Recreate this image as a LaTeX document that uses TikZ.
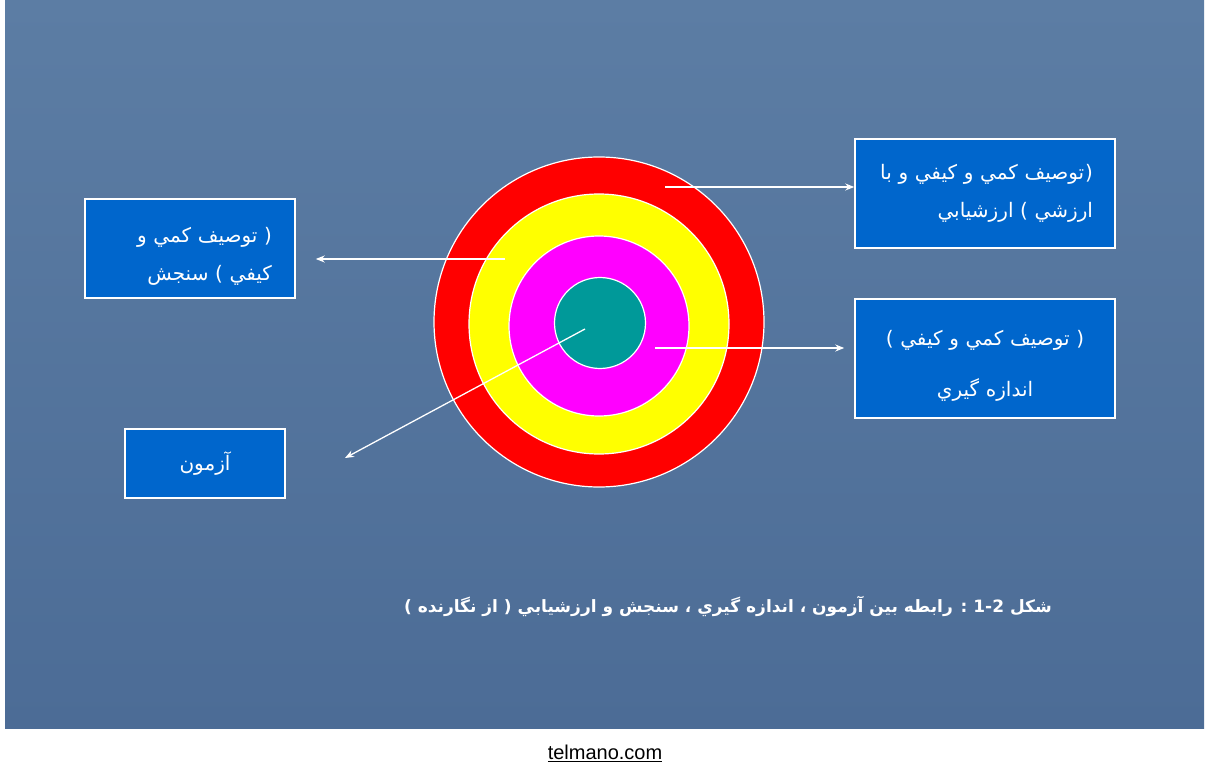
\documentclass[tikz,border=0pt]{standalone}
\usepackage{fontspec}
\setmainfont{Liberation Sans}
\newfontfamily\arabicfont[Script=Arabic]{DejaVu Sans}
\TeXXeTstate=1
\usetikzlibrary{positioning}
\usetikzlibrary{arrows.meta}

\definecolor{slidetop}{RGB}{92,125,164}
\definecolor{slidebottom}{RGB}{76,108,150}
\definecolor{boxblue}{RGB}{0,102,204}
\definecolor{ringred}{RGB}{255,0,0}
\definecolor{ringyellow}{RGB}{255,255,0}
\definecolor{ringpink}{RGB}{255,0,255}
\definecolor{ringteal}{RGB}{0,153,153}

\begin{document}
\begin{tikzpicture}[x=1pt,y=-1pt,
	card/.style={draw=white,line width=1.5pt,fill=boxblue,text=white,inner sep=0pt,
		font=\arabicfont\fontsize{20}{38}\selectfont},
	ring/.style={draw=white,line width=1.2pt,circle,inner sep=0pt},
	pointer/.style={draw=white,line width=1.3pt,-{Stealth[length=9pt,width=7pt]}}]
	\useasboundingbox (0,0) rectangle (1209,775);
	\shade[top color=slidetop,bottom color=slidebottom] (5,0) rectangle (1204,728);

	\node[ring,fill=ringred,minimum size=330pt] (outer) at (599,322) {};
	\node[ring,fill=ringyellow,minimum size=260pt] (yellowring) at (599,324) {};
	\node[ring,fill=ringpink,minimum size=180pt] (pinkring) at (599,326) {};
	\node[ring,fill=ringteal,minimum size=91pt] (core) at (600,323) {};

	\node[card,minimum width=260pt,minimum height=109pt,text width=216pt,align=right] (evaluation) at (985,193.5)
		{\beginR(\kern1pt توصيف کمي و کيفي و با\endR\\\beginR ارزشي ) ارزشيابي\endR};
	\node[card,minimum width=210pt,minimum height=99pt,text width=164pt,align=right] (assessment) at (190,248.5)
		{\rule{0pt}{31pt}\beginR( توصيف کمي و\endR\\\beginR کيفي ) سنجش\endR};
	\node[card,minimum width=260pt,minimum height=119pt,text width=230pt,align=center] (measurement) at (985,358.5)
		{\rule{0pt}{30pt}\beginR( توصيف کمي و کيفي )\endR\\[13pt]\beginR اندازه گيري\endR};
	\node[card,minimum width=160pt,minimum height=69pt] (test) at (205,463.5) {\beginR آزمون\endR};

	\coordinate (fromred) at (665,187);
	\coordinate (fromyellow) at (505,259);
	\coordinate (frompink) at (655,348);
	\coordinate (fromcore) at (585,329);
	\coordinate (totest) at (345,458);

	\draw[pointer] (fromred) -- (fromred -| evaluation.west);
	\draw[pointer,shorten >=20pt] (fromyellow) -- (fromyellow -| assessment.east);
	\draw[pointer,shorten >=10pt] (frompink) -- (frompink -| measurement.west);
	\draw[pointer] (fromcore) -- (totest);

	\node[anchor=east,inner sep=0pt,text=white,font=\arabicfont\bfseries\fontsize{17}{24}\selectfont] (caption) at (1052,606)
		{\beginR شکل \beginL1-2\endL{} : رابطه بين آزمون ، اندازه گيري ، سنجش و ارزشيابي ( از نگارنده )\endR};
	\node[font=\fontsize{20}{24}\selectfont] (site) at (605,753) {\underline{telmano.com}};
\end{tikzpicture}
\end{document}
